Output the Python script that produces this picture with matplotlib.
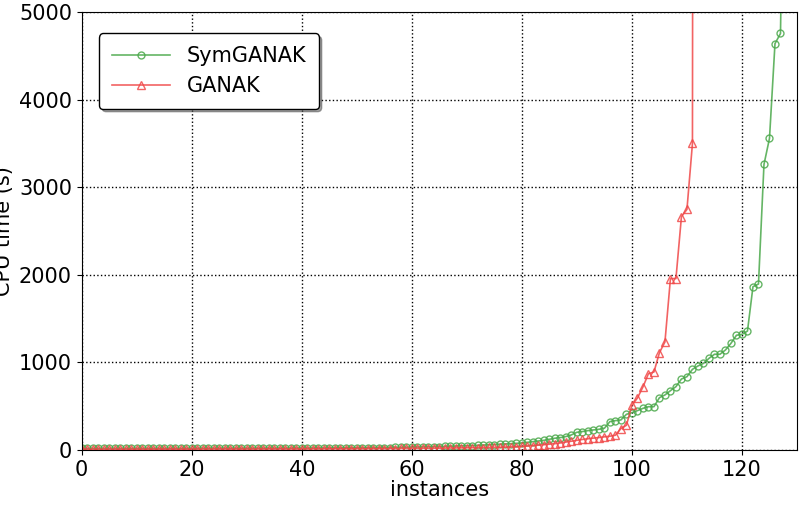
import matplotlib.pyplot as plt

# CPU time per instance (sorted, cactus plot)
sym_ganak = [
    18, 18, 18, 18, 18, 18, 18, 18, 18, 18,
    19, 19, 19, 19, 19, 19, 19, 19, 19, 19,
    20, 20, 20, 20, 20, 20, 20, 20, 20, 20,
    21, 21, 21, 21, 21, 21, 21, 21, 22, 22,
    22, 22, 22, 23, 23, 23, 23, 24, 24, 24,
    25, 25, 26, 26, 27, 27, 28, 29, 30, 31,
    32, 33, 34, 35, 36, 38, 40, 42, 44, 46,
    48, 50, 53, 56, 59, 62, 65, 68, 72, 76,
    80, 88, 95, 102, 110, 122, 134, 141, 153, 172,
    202, 210, 221, 229, 236, 248, 324, 335, 343, 407,
    426, 449, 475, 494, 494, 597, 628, 677, 723, 810,
    837, 921, 959, 989, 1046, 1093, 1093, 1142, 1218, 1310,
    1320, 1358, 1865, 1895, 3261, 3558, 4640, 4756, 9000,
]
ganak = [
    8, 8, 8, 8, 8, 8, 8, 8, 8, 8,
    9, 9, 9, 9, 9, 9, 9, 9, 9, 9,
    10, 10, 10, 10, 10, 10, 10, 10, 10, 10,
    10, 10, 11, 11, 11, 11, 11, 11, 11, 11,
    12, 12, 12, 12, 12, 13, 13, 13, 13, 13,
    14, 14, 14, 15, 15, 15, 16, 16, 17, 17,
    18, 18, 19, 19, 20, 21, 21, 22, 23, 24,
    25, 26, 27, 28, 29, 30, 31, 33, 35, 37,
    40, 45, 50, 55, 60, 66, 72, 80, 90, 100,
    110, 120, 128, 135, 142, 150, 157, 168, 244, 282,
    510, 593, 719, 871, 890, 1111, 1233, 1957, 1957, 2665,
    2747, 3500, 60000,
]

fig, ax = plt.subplots(figsize=(8.01, 5.05), dpi=100)
fig.subplots_adjust(left=0.102, right=0.995, top=0.976, bottom=0.109)

ax.plot(range(len(sym_ganak)), sym_ganak, '-o', color='#4aa84a', alpha=0.85,
        markerfacecolor='none', markersize=5, linewidth=1.2, label='SymGANAK')
ax.plot(range(len(ganak)), ganak, '-^', color='#f04848', alpha=0.85,
        markerfacecolor='none', markersize=6, linewidth=1.2, label='GANAK')

ax.set_xlim(0, 130)
ax.set_ylim(0, 5000)
ax.set_xticks([0, 20, 40, 60, 80, 100, 120])
ax.set_yticks([0, 1000, 2000, 3000, 4000, 5000])
ax.tick_params(labelsize=15)
ax.grid(True, linestyle=':', color='black', linewidth=1)
ax.set_xlabel('instances', fontsize=15, labelpad=0)
ax.set_ylabel('CPU time (s)', fontsize=15, labelpad=2)
ax.yaxis.set_label_coords(-0.095, 0.5)

leg = ax.legend(loc='upper left', fontsize=15, fancybox=True, shadow=True,
                framealpha=1, edgecolor='black', handlelength=2.8,
                borderpad=0.6, bbox_to_anchor=(0.01, 0.975))

plt.savefig('out.png')
